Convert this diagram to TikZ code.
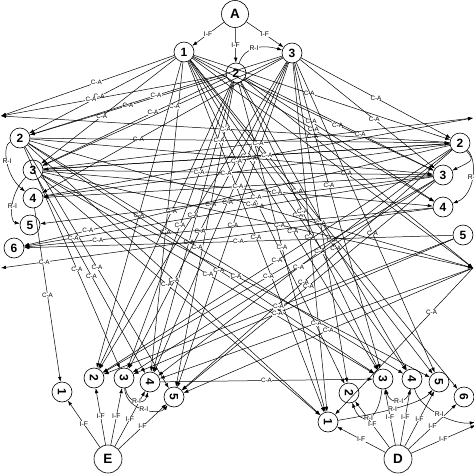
\documentclass[tikz,border=0pt]{standalone}
\usepackage{fontspec}
\setmainfont{Liberation Sans}
\usetikzlibrary{arrows.meta}
\begin{document}
\begin{tikzpicture}[x=1pt,y=-1pt,
  nd/.style={circle,draw,line width=0.6pt,fill=white,inner sep=0pt,minimum size=20pt,font=\fontsize{12}{12}\selectfont\bfseries},
  big/.style={nd,minimum size=27pt,font=\fontsize{13.5}{13.5}\selectfont\bfseries},
  rot/.style={nd,rotate=-90},
  ln/.style={line width=0.5pt,-{Latex[length=5pt,width=3.5pt]}},
  lbl/.style={font=\fontsize{6.3}{6.3}\selectfont,fill=white,inner sep=0.2pt},
  rl/.style={font=\fontsize{6.8}{6.8}\selectfont,fill=white,inner sep=0.3pt}]
\useasboundingbox (0,0) rectangle (474,474);
% nodes
\node[big] (A) at (235,14) {A};
\node[nd] (T1) at (184,52) {1};
\node[nd] (T2) at (236,73) {2};
\node[nd] (T3) at (292,53) {3};
\node[nd] (L2) at (20,138) {2};
\node[nd] (L3) at (33,170) {3};
\node[nd] (L4) at (33,198) {4};
\node[nd] (L5) at (30,225) {5};
\node[nd] (L6) at (14,248) {6};
\node[nd] (R2) at (460,143) {2};
\node[nd] (R3) at (443,175) {3};
\node[nd] (R4) at (443,207) {4};
\node[nd] (R5) at (463,235) {5};
\node[rot] (B1) at (62,392) {1};
\node[rot] (B2) at (94,378) {2};
\node[rot] (B3) at (124,378) {3};
\node[rot] (B4) at (150,382) {4};
\node[rot] (B5) at (174,397) {5};
\node[big,minimum size=28pt] (E) at (108,459) {E};
\node[rot] (D1) at (328,422) {1};
\node[rot] (D2) at (349,393) {2};
\node[rot] (D3) at (383,379) {3};
\node[rot] (D4) at (412,379) {4};
\node[rot] (D5) at (439,382) {5};
\node[rot] (D6) at (464,397) {6};
\node[rot] (D7) at (485,421) {7};
\node[big,minimum size=28pt] (D) at (398,459) {D};
\coordinate (L1) at (1,116);
\coordinate (L7) at (1,268);
\coordinate (R1) at (473,118);
\coordinate (R6) at (473,268);
% I-F edges
\foreach \t in {T1,T2,T3} \draw[ln] (A) -- (\t) node[rl,pos=.5]{I-F};
\foreach \t in {B1,B2,B3,B4,B5} \draw[ln] (E) -- (\t) node[rl,pos=.5]{I-F};
\foreach \t in {D1,D2,D3,D4,D5,D6,D7} \draw[ln] (D) -- (\t) node[rl,pos=.5]{I-F};
% R-I edges
\draw[ln] (T2) .. controls (245,45) and (265,45) .. (T3) node[rl,pos=.45]{R-I};
\draw[ln] (B3) .. controls (128,405) and (145,405) .. (B4) node[rl,pos=.5]{R-I};
\draw[ln] (B3) .. controls (126,412) and (160,415) .. (B5) node[rl,pos=.5]{R-I};
\draw[ln] (D3) .. controls (378,425) and (360,425) .. (D2) node[rl,pos=.5]{R-I};
\draw[ln] (D1) .. controls (370,415) and (420,405) .. (D5) node[rl,pos=.5]{R-I};
\draw[ln] (D4) .. controls (408,405) and (390,405) .. (D3) node[rl,pos=.5]{R-I};
\draw[ln] (D4) .. controls (420,410) and (455,425) .. (D7) node[rl,pos=.5]{R-I};
\draw[ln] (L2) .. controls (2,145) and (5,175) .. (L4) node[rl,pos=.5]{R-I};
\draw[ln] (L3) .. controls (8,195) and (10,222) .. (L5) node[rl,pos=.5]{R-I};
\draw[ln] (R2) .. controls (478,160) and (475,195) .. (R4) node[rl,pos=.5]{R-I};
\draw[ln] (R2) .. controls (474,160) .. (R3);
% C-A edges
\foreach \s/\t/\p in {
 T1/L1/.45, T1/L2/.52, T1/L3/.55, T1/R2/.45, T1/R3/.6, T1/R4/.5, T1/B2/.5, T1/B4/.55,
 T1/D1/.5, T1/D2/.45, T1/D3/.55, T1/D4/.5, T1/D5/.6, T1/D6/.4, T1/R6/.55,
 T2/L1/.6, T2/L2/.5, T2/L3/.4, T2/R3/.61, T2/R4/.35, T2/R6/.3, T2/B2/.45, T2/B3/.5,
 T2/B4/.55, T2/B5/.4, T2/D1/.5, T2/D3/.45, T2/D4/.55,
 T3/L2/.5, T3/L3/.45, T3/R2/.5, T3/R3/.55, T3/B2/.5, T3/B3/.55, T3/B4/.45, T3/B5/.5,
 T3/D1/.5, T3/D2/.5, T3/D3/.4, T3/D5/.55, T3/L4/.6,
 L2/R2/.45, L2/R3/.55, L2/R6/.5, L2/D1/.5, L2/D3/.55, L2/D4/.45, L2/B3/.55, L2/B5/.5,
 L3/R2/.5, L3/R3/.4, L3/R4/.6, L3/D1/.45, L3/D3/.5, L3/R6/.55, L3/D5/.5, L3/R1/.5,
 L3/B4/.5, L4/R1/.45, L4/B1/.5,
 R2/L1/.5, R2/L3/.45, R2/L4/.55, R2/L6/.85, R2/B2/.5, R2/B4/.45, R2/B5/.55,
 R3/L4/.5, R3/L5/.45, R3/L6/.88, R3/B2/.5, R3/B3/.45, R3/B5/.5,
 R4/L6/.82, R4/L7/.9, R5/L6/.5, R5/B2/.5, R5/B3/.55,
 R6/D1/.3, R6/B4/.5, R6/B5/.5, B4/D3/.5}
 \draw[ln] (\s) -- (\t) node[lbl,pos=\p]{C-A};
\end{tikzpicture}
\end{document}
